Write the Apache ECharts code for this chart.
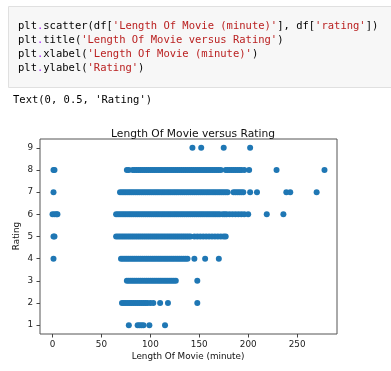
<!DOCTYPE html>
<html>
<head>
<meta charset="utf-8">
<script src="https://cdn.jsdelivr.net/npm/echarts@6/dist/echarts.min.js"></script>
<style>
html,body{margin:0;padding:0;background:#fff;}
#c{width:391px;height:371px;}
</style>
</head>
<body>
<div id="c"></div>
<script>
// Per-rating movie lengths (minutes)
const ratings = [1, 2, 3, 4, 5, 6, 7, 8, 9];
const len1 = [78, 87, 89, 91, 93, 99, 115];
const len2 = [71,73,75,77,79,81,83,85,87,89,91,93,95,97, 100, 103, 110, 118, 148];
const len3 = [76,78,80,82,84,86,88,90,92,94,96,98,100,102,104,106,108,110,112,114,116,118,120,122, 124, 126, 148];
const len4 = [1, 70,72,74,76,78,80,82,84,86,88,90,92,94,96,98,100,102,104,106,108,110,112,114,116,118,120,122,124,126,128,130,132,134, 136, 138, 145, 156, 170];
const len5 = [1, 2, 65,67,69,71,73,75,77,79,81,83,85,87,89,91,93,95,97,99,101,103,105,107,109,111,113,115,117,119,121,123,125,127,129,131,133,135,137,139,141, 145,148,151,154,157,160, 163,166,169,172,175,177];
const len6 = [0, 2, 4, 5, 65,67,69,71,73,75,77,79,81,83,85,87,89,91,93,95,97,99,101,103,105,107,109,111,113,115,117,119,121,123,125,127,129,131,133,135,137,139,141,143,145,147,149,151,153,155,157,159,161,163,165,167,169,171, 174,176,178,181,184,187,190,193,196,200, 219, 236];
const len7 = [1, 69,71,73,75,77,79,81,83,85,87,89,91,93,95,97,99,101,103,105,107,109,111,113,115,117,119,121,123,125,127,129,131,133,135,137,139,141,143,145,147,149,151,153,155,157,159,161,163,165,167,169,171,173,175,177,179, 185,187,189,191,193,195, 202, 209, 239, 243, 270];
const len8 = [1, 2, 76, 78, 82,84,86,88,90,92,94,96,98,100,102,104,106,108,110,112,114,116,118,120,122,124,126,128,130,132,134,136,138,140,142,144,146,148,150,152,154,156,158,160,162,164,166,168,170,172, 177,179,181,183,185,187,189,191,193,196, 201, 229, 278];
const len9 = [143, 152, 175, 202];
const xTicks = [0, 50, 100, 150, 200, 250];
const yTicks = [1, 2, 3, 4, 5, 6, 7, 8, 9];

const byRating = [len1, len2, len3, len4, len5, len6, len7, len8, len9];
const points = [];
byRating.forEach((arr, i) => arr.forEach(v => points.push([v, ratings[i]])));

const mono = '"DejaVu Sans Mono", "Liberation Mono", monospace';
const codeRich = {
  k: {fill: '#000', fontFamily: mono, fontSize: 10.5},
  p: {fill: '#AA22FF', fontFamily: mono, fontSize: 10.5},
  s: {fill: '#BA2121', fontFamily: mono, fontSize: 10.5}
};
function codeLine(txt, y) {
  return {type: 'text', x: 18, y: y, style: {text: txt, rich: codeRich, fontFamily: mono, fontSize: 10.5, verticalAlign: 'middle'}};
}

const chart = echarts.init(document.getElementById('c'), null, {renderer: 'canvas'});
chart.setOption({
  animation: false,
  backgroundColor: '#fff',
  title: {
    text: 'Length Of Movie versus Rating',
    left: 188, top: 124, textAlign: 'center',
    textStyle: {fontFamily: '"DejaVu Sans"', fontSize: 10.7, fontWeight: 'normal', color: '#111'}
  },
  graphic: [
    {type: 'rect', shape: {x: 8.5, y: 6.5, width: 400, height: 81}, style: {fill: '#f7f7f7', stroke: '#e0e0e0', lineWidth: 1}},
    codeLine("{k|plt}{p|.}{k|scatter(df[}{s|'Length Of Movie (minute)'}{k|], df[}{s|'rating'}{k|])}", 26),
    codeLine("{k|plt}{p|.}{k|title(}{s|'Length Of Movie versus Rating'}{k|)}", 40),
    codeLine("{k|plt}{p|.}{k|xlabel(}{s|'Length Of Movie (minute)'}{k|)}", 54),
    codeLine("{k|plt}{p|.}{k|ylabel(}{s|'Rating'}{k|)}", 68),
    {type: 'text', x: 13, y: 100, style: {text: "Text(0, 0.5, 'Rating')", fill: '#000', fontFamily: mono, fontSize: 10.5, verticalAlign: 'middle'}},
    {type: 'text', x: 188, y: 357, style: {text: 'Length Of Movie (minute)', fill: '#111', fontFamily: '"DejaVu Sans"', fontSize: 8.8, align: 'center', verticalAlign: 'middle'}},
    {type: 'text', x: 17, y: 236, rotation: Math.PI / 2, style: {text: 'Rating', fill: '#111', fontFamily: '"DejaVu Sans"', fontSize: 8.8, align: 'center', verticalAlign: 'middle'}}
  ],
  grid: {left: 40, top: 139, width: 297, height: 195, show: true, borderColor: '#555', borderWidth: 1, backgroundColor: 'transparent'},
  xAxis: {
    type: 'value', min: -12.8, max: 290.8,
    splitLine: {show: false},
    axisLine: {show: false, onZero: false},
    axisTick: {show: true, length: 3.5, lineStyle: {color: '#444'}, customValues: xTicks},
    axisLabel: {customValues: xTicks, margin: 6, color: '#222', fontFamily: '"DejaVu Sans"', fontSize: 8.8}
  },
  yAxis: {
    type: 'value', min: 0.6, max: 9.4,
    splitLine: {show: false},
    axisLine: {show: false, onZero: false},
    axisTick: {show: true, length: 3.5, lineStyle: {color: '#444'}, customValues: yTicks},
    axisLabel: {customValues: yTicks, margin: 7, color: '#222', fontFamily: '"DejaVu Sans"', fontSize: 8.8}
  },
  series: [{
    type: 'scatter',
    data: points,
    symbolSize: 6,
    itemStyle: {color: '#1f77b4', opacity: 1},
    emphasis: {disabled: true}
  }]
});
</script>
</body>
</html>
